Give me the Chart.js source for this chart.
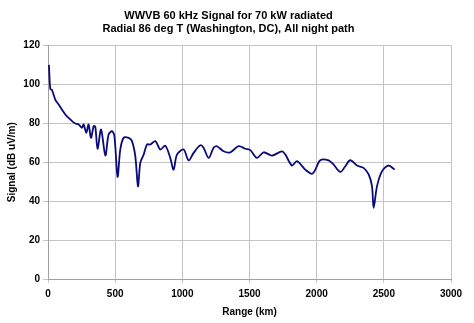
<!DOCTYPE html>
<html>
<head>
<meta charset="utf-8">
<script src="https://cdn.jsdelivr.net/npm/chart.js@4"></script>
<style>
  html, body { margin: 0; padding: 0; background: #fff; }
  #wrap { width: 474px; height: 323px; }
</style>
</head>
<body>
<div id="wrap"><canvas id="signalChart" width="474" height="323"></canvas></div>
<script>
// WWVB signal vs range
let rangeKm = [7, 17, 30, 54, 79, 104, 129, 153, 179, 203,
    228, 253, 265, 285, 302, 320, 340, 352, 369, 395,
    427, 451, 476, 494, 518, 538, 563, 600, 625, 650,
    670, 687, 712, 737, 762, 799, 836, 873, 910, 935,
    960, 1010, 1047, 1084, 1134, 1158, 1196, 1233, 1258, 1307,
    1357, 1419, 1469, 1506, 1556, 1605, 1667, 1742, 1767, 1816,
    1853, 1915, 1965, 1990, 2027, 2089, 2126, 2176, 2213, 2250,
    2300, 2349, 2387, 2412, 2424, 2449, 2486, 2535, 2580];
let signalDb = [110, 97.7, 97, 92.2, 89.7, 87, 84.5, 82.8, 81.1, 79.9,
    79.4, 77.7, 79.4, 75.1, 79.4, 72.5, 78.5, 78.2, 66.9, 76.8,
    63.4, 74.2, 75.9, 73.7, 52.5, 66.5, 72.5, 72.5, 70.8, 63,
    47.6, 59.7, 63.9, 69.1, 69.1, 70.8, 66.5, 68.5, 62.2, 56.2,
    63.9, 66.5, 60.9, 64.8, 68.7, 67.4, 62.2, 67.4, 68.2, 65.6,
    65.1, 68.2, 66.9, 66.2, 62.2, 65.1, 63.4, 65.6, 63.9, 58.3,
    60.5, 56.2, 54, 56.2, 61, 60.9, 58.8, 55, 57.9, 61,
    58.3, 57.1, 53.7, 47.6, 36.5, 47.6, 55.3, 58.3, 56.2];

let titleLines = ['WWVB 60 kHz Signal for 70 kW radiated', 'Radial 86 deg T (Washington, DC), All night path'];

const font = 'Liberation Sans, Arial, Helvetica, sans-serif';
const gridColor = '#c4c4c4';

const ctx = document.getElementById('signalChart').getContext('2d');
const signalChart = new Chart(ctx, {
    type: 'line',
    data: {
        datasets: [{
            label: 'Signal',
            data: rangeKm.map((r, i) => ({ x: r, y: signalDb[i] })),
            borderColor: '#0a0a78',
            borderWidth: 1.8,
            pointRadius: 0,
            tension: 0.3,
            fill: false
        }]
    },
    options: {
        responsive: false,
        animation: false,
        layout: {
            padding: { left: 6, right: 23, top: 0, bottom: 5 }
        },
        scales: {
            x: {
                type: 'linear',
                min: 0,
                max: 3000,
                ticks: {
                    stepSize: 500,
                    color: '#000',
                    font: { family: font, size: 10, weight: 'bold' },
                    padding: 5,
                    maxRotation: 0,
                    callback: (v) => String(v)
                },
                grid: { color: gridColor, tickLength: 4 },
                border: { color: '#a0a0a0' },
                title: {
                    display: true,
                    text: 'Range (km)',
                    color: '#000',
                    font: { family: font, size: 10, weight: 'bold' },
                    padding: { top: 0, bottom: 0 }
                },
                afterFit: (scale) => { scale.height = 39; }
            },
            y: {
                min: 0,
                max: 120,
                ticks: {
                    stepSize: 20,
                    color: '#000',
                    font: { family: font, size: 10, weight: 'bold' },
                    padding: 3
                },
                grid: { color: gridColor, tickLength: 5 },
                border: { color: '#a0a0a0' },
                title: {
                    display: true,
                    text: 'Signal (dB uV/m)',
                    color: '#000',
                    font: { family: font, size: 10, weight: 'bold' },
                    padding: { top: 0, bottom: 2 }
                },
                afterFit: (scale) => { scale.width = 42; }
            }
        },
        plugins: {
            legend: { display: false },
            tooltip: { enabled: false },
            title: {
                display: true,
                text: titleLines,
                color: '#000',
                font: { family: font, size: 11, weight: 'bold', lineHeight: 1.2 },
                padding: { top: 9, bottom: 10 }
            }
        }
    }
});
</script>
</body>
</html>
